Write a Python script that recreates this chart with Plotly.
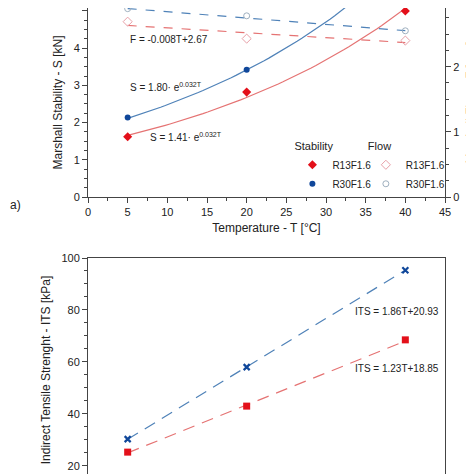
import numpy as np
import plotly.graph_objects as go

T = [5, 20, 40]
stab_r13 = [1.62, 2.82, 5.0]
stab_r30 = [2.14, 3.42, 6.6]
flow_r13 = [2.69, 2.43, 2.40]
flow_r30 = [2.89, 2.78, 2.55]
fit_s_r13 = (1.41, 0.032)
fit_s_r30 = (1.80, 0.032)
fit_f_r13 = (-0.0075, 2.67)
fit_f_r30 = (-0.0097, 2.94)
its_r30 = [30.3, 58.0, 95.3]
its_r13 = [25.3, 43.0, 68.5]
fit_its_r30 = (1.86, 20.93)
fit_its_r13 = (1.23, 18.85)

RED = "#e3101a"; BLUE = "#10479a"
LRED = "#e57373"; LBLUE = "#4f82b8"
PINK = "#e8a0a8"; GREY = "#9fb0bf"

tt = np.linspace(5, 40, 60)
tl = np.array([5, 40])
fig = go.Figure()
fig.add_trace(go.Scatter(x=tt, y=fit_s_r13[0]*np.exp(fit_s_r13[1]*tt), mode="lines", line=dict(color=LRED, width=1.2), showlegend=False, xaxis="x", yaxis="y"))
fig.add_trace(go.Scatter(x=tt, y=fit_s_r30[0]*np.exp(fit_s_r30[1]*tt), mode="lines", line=dict(color=LBLUE, width=1.2), showlegend=False, xaxis="x", yaxis="y"))
fig.add_trace(go.Scatter(x=tl, y=fit_f_r13[0]*tl+fit_f_r13[1], mode="lines", line=dict(color=LRED, width=1.2, dash="dash"), showlegend=False, xaxis="x", yaxis="y2"))
fig.add_trace(go.Scatter(x=tl, y=fit_f_r30[0]*tl+fit_f_r30[1], mode="lines", line=dict(color=LBLUE, width=1.2, dash="dash"), showlegend=False, xaxis="x", yaxis="y2"))
fig.add_trace(go.Scatter(x=T, y=stab_r13, mode="markers", name="R13F1.6", marker=dict(symbol="diamond", color=RED, size=7), xaxis="x", yaxis="y", legend="legend"))
fig.add_trace(go.Scatter(x=T, y=stab_r30, mode="markers", name="R30F1.6", marker=dict(symbol="circle", color=BLUE, size=6), xaxis="x", yaxis="y", legend="legend"))
fig.add_trace(go.Scatter(x=T, y=flow_r13, mode="markers", name="R13F1.6", marker=dict(symbol="diamond-open", color=PINK, size=7), xaxis="x", yaxis="y2", legend="legend2"))
fig.add_trace(go.Scatter(x=T, y=flow_r30, mode="markers", name="R30F1.6", marker=dict(symbol="circle-open", color=GREY, size=6), xaxis="x", yaxis="y2", legend="legend2"))

fig.add_trace(go.Scatter(x=tl, y=fit_its_r30[0]*tl+fit_its_r30[1], mode="lines", line=dict(color=LBLUE, width=1.2, dash="12px,8px"), showlegend=False, xaxis="x2", yaxis="y3"))
fig.add_trace(go.Scatter(x=tl, y=fit_its_r13[0]*tl+fit_its_r13[1], mode="lines", line=dict(color=LRED, width=1.2, dash="12px,8px"), showlegend=False, xaxis="x2", yaxis="y3"))
fig.add_trace(go.Scatter(x=T, y=its_r30, mode="markers", marker=dict(symbol="x-thin", color=BLUE, size=6, line=dict(width=2.2, color=BLUE)), showlegend=False, xaxis="x2", yaxis="y3"))
fig.add_trace(go.Scatter(x=T, y=its_r13, mode="markers", marker=dict(symbol="square", color=RED, size=7), showlegend=False, xaxis="x2", yaxis="y3"))

F = "Liberation Sans, Arial, sans-serif"
ax = dict(showline=True, linecolor="#444", linewidth=1, ticks="outside", ticklen=5, tickcolor="#444",
          showgrid=False, zeroline=False, tickfont=dict(size=11, color="#222"), automargin=False,
          minor=dict(ticks="outside", ticklen=3, tickcolor="#444"))
xd = [80/474, 437/474]
fig.update_layout(
    width=474, height=474, margin=dict(l=0, r=0, t=0, b=0),
    paper_bgcolor="white", plot_bgcolor="white", font=dict(family=F, size=11, color="#222"),
    xaxis=dict(**ax, domain=xd, range=[0, 45], dtick=5, minor_dtick=2.5, anchor="y",
               title=dict(text="Temperature - T [°C]", font=dict(size=12), standoff=6)),
    yaxis=dict(**ax, domain=[1-189/474, 1], range=[0, 5.08], dtick=1, minor_dtick=0.25, anchor="x",
               title=dict(text="Marshall Stability - S [kN]", font=dict(size=12), standoff=8)),
    yaxis2=dict(**ax, overlaying="y", side="right", range=[0, 2.9], dtick=1, minor_dtick=0.25, anchor="x",
                title=dict(text="Marshall Flow - F [mm]", font=dict(size=12), standoff=8)),
    xaxis2=dict(**ax, domain=xd, range=[0, 45], dtick=5, minor_dtick=2.5, anchor="y3", mirror=True, showticklabels=False),
    yaxis3=dict(**ax, domain=[0, 1-250/474], range=[13.8, 100], dtick=20, tick0=0, minor_dtick=5, anchor="x2", mirror=True,
                title=dict(text="Indirect Tensile Strenght - ITS [kPa]", font=dict(size=12), standoff=8)),
    legend=dict(title=dict(text="Stability", font=dict(size=11)), x=0.6, y=0.73, xanchor="left", yanchor="top",
                bgcolor="rgba(0,0,0,0)", font=dict(size=10), tracegroupgap=0, itemwidth=30),
    legend2=dict(title=dict(text="Flow", font=dict(size=11)), x=0.755, y=0.73, xanchor="left", yanchor="top",
                 bgcolor="rgba(0,0,0,0)", font=dict(size=10), tracegroupgap=0, itemwidth=30),
    annotations=[
        dict(text="F = -0.008T+2.67", x=5, y=4.23, xref="x", yref="y", xanchor="left", showarrow=False, font=dict(size=10)),
        dict(text="S = 1.80· e<sup>0.032T</sup>", x=5, y=2.95, xref="x", yref="y", xanchor="left", showarrow=False, font=dict(size=10)),
        dict(text="S = 1.41· e<sup>0.032T</sup>", x=7.6, y=1.6, xref="x", yref="y", xanchor="left", showarrow=False, font=dict(size=10)),
        dict(text="ITS = 1.86T+20.93", x=44.5, y=79.5, xref="x2", yref="y3", xanchor="right", showarrow=False, font=dict(size=10)),
        dict(text="ITS = 1.23T+18.85", x=44.5, y=57.5, xref="x2", yref="y3", xanchor="right", showarrow=False, font=dict(size=10)),
        dict(text="a)", x=0, y=1-197/474, xref="paper", yref="paper", xanchor="left", showarrow=False, font=dict(size=12)),
    ],
)
fig.write_html("out.html")
